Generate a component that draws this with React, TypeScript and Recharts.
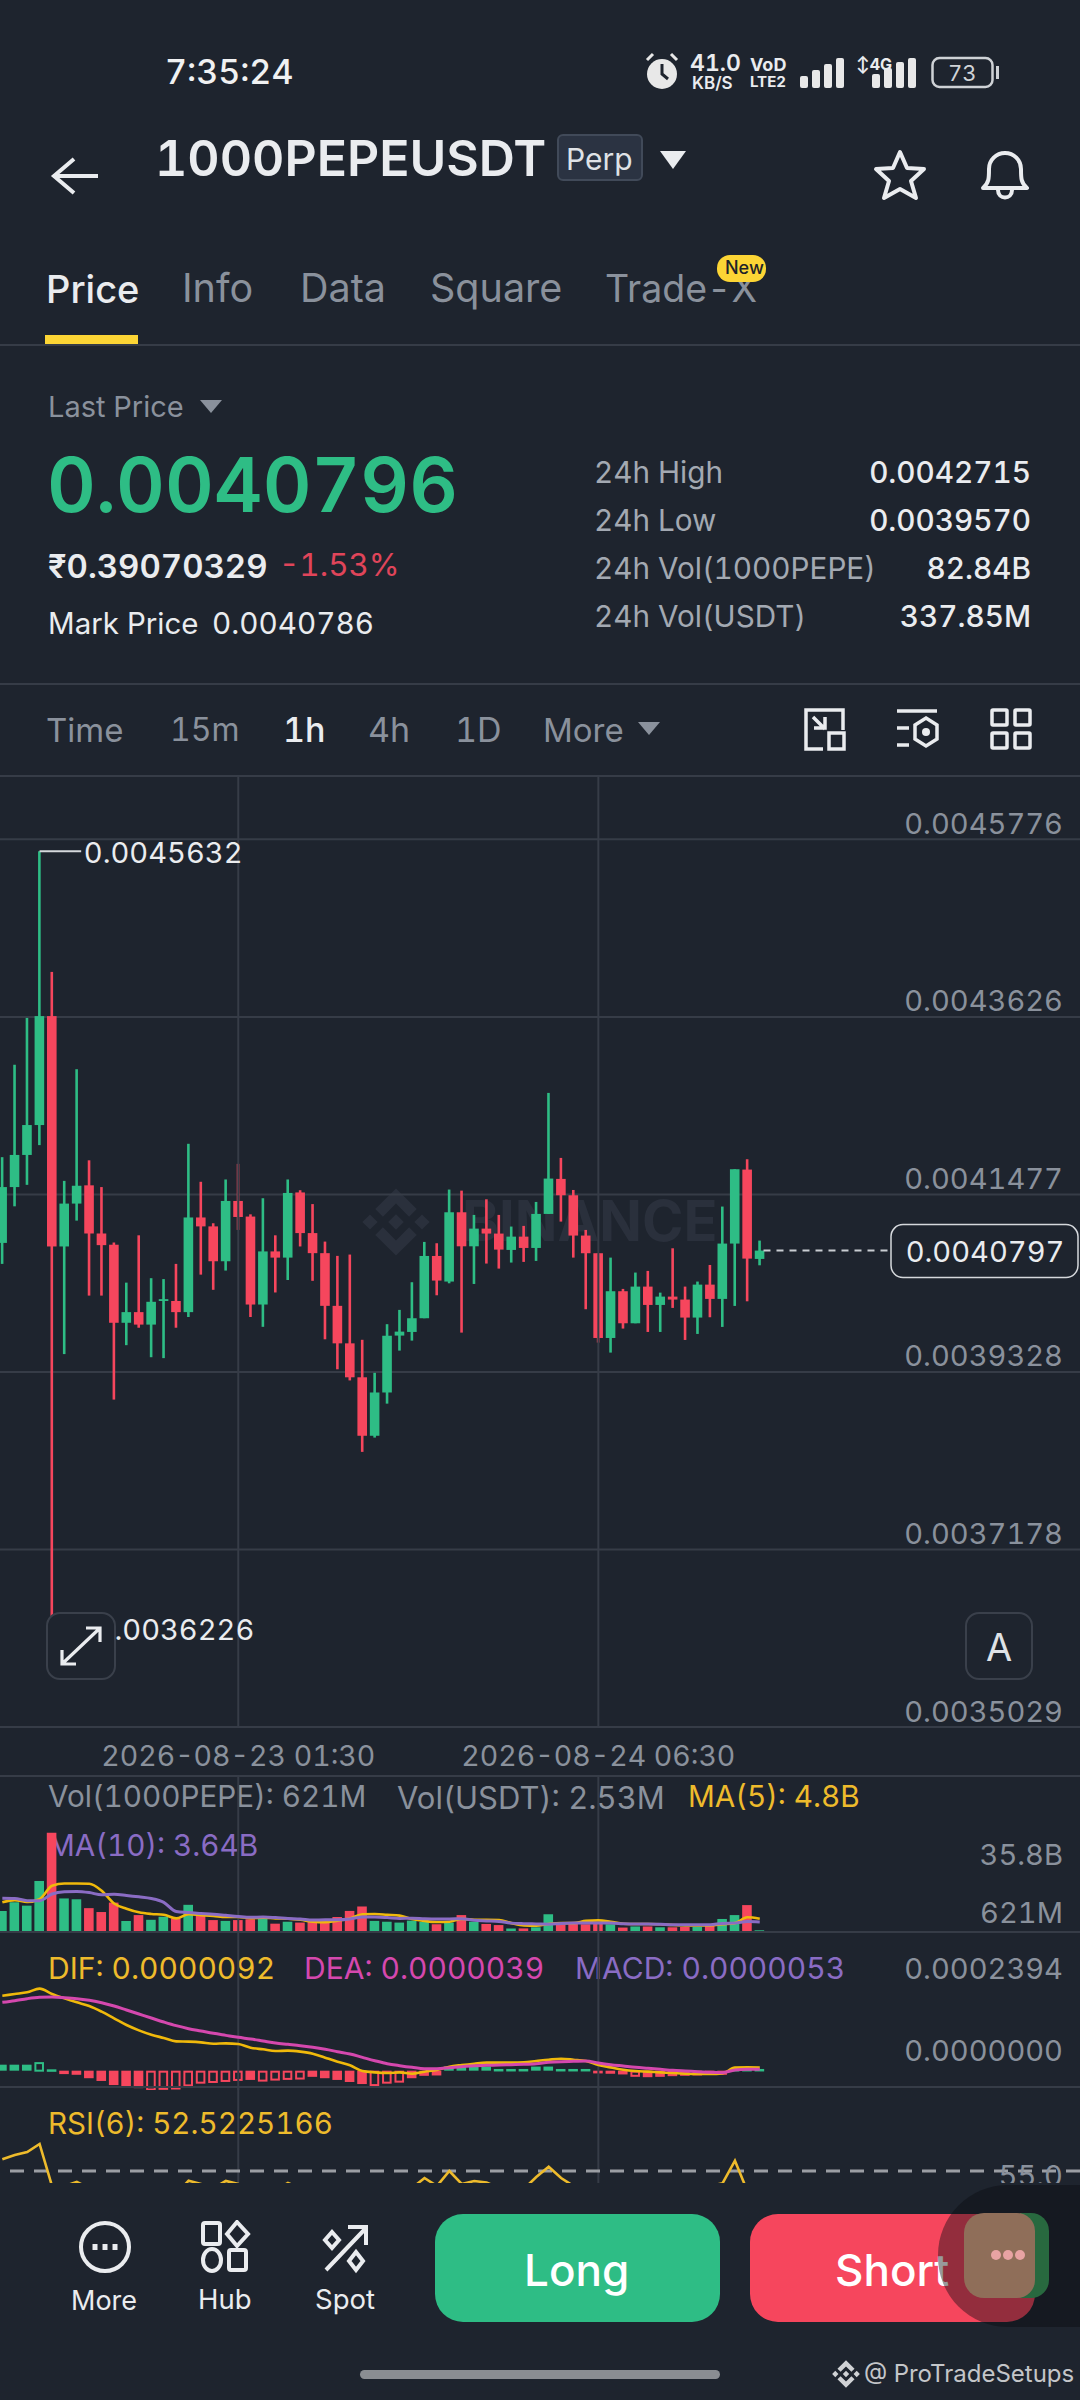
import React from "react";
import {
  Bar,
  CartesianGrid,
  Cell,
  ComposedChart,
  Line,
  ReferenceDot,
  ReferenceLine,
  XAxis,
  YAxis,
} from "recharts";

// prices are kept as price * 1e7
const PRICE_SCALE = 1e7;

const highs = [
  41928, 43047, 43614, 45632, 44171, 41641, 42993, 41890, 41566, 40895, 40409, 40982, 40463, 40452, 40636, 42090,
  41630, 41128, 41658, 41847, 41236, 41431, 40982, 41658, 41528, 41360, 40906, 40733, 40749, 39717, 39317, 39906,
  40079, 40414, 40902, 40886, 41536, 41523, 41229, 41418, 41229, 41088, 41096, 41386, 42706, 41919, 41531, 41047,
  40765, 40712, 40333, 40531, 40551, 40288, 40825, 40361, 40422, 40623, 41330, 41782, 41903, 40918,
];
const lows = [
  40636, 41333, 41593, 42074, 36226, 39544, 41160, 40252, 40252, 38993, 39652, 39863, 39506, 39495, 39863, 39993,
  40506, 40322, 40555, 41047, 39993, 39874, 40290, 40441, 40847, 40431, 39723, 39360, 39225, 38360, 38533, 38944,
  39586, 39707, 39978, 40256, 40401, 39804, 40393, 40640, 40579, 40652, 40660, 40672, 41241, 41148, 40712, 40087,
  39683, 39562, 39853, 39917, 39812, 39812, 40103, 39715, 39788, 39990, 39873, 40127, 40183, 40619,
];
const opens = [
  40890, 41566, 41955, 42317, 43636, 40847, 41366, 41587, 41004, 40868, 39923, 40052, 39901, 40187, 40187, 40052,
  41198, 41090, 40668, 41398, 41209, 40144, 40787, 40712, 41501, 41009, 40766, 40128, 39674, 39263, 38555, 39079,
  39768, 39812, 39978, 40732, 40422, 41261, 40849, 41063, 41003, 40805, 40966, 40829, 41241, 41665, 41467, 40979,
  40765, 39739, 40305, 39917, 40361, 40139, 40240, 40204, 39986, 40385, 40212, 40882, 41778, 40696,
];
const closes = [
  41566, 41955, 42317, 43636, 40847, 41366, 41582, 41004, 40863, 39923, 40052, 39901, 40177, 40209, 40052, 41198,
  41090, 40668, 41398, 41204, 40144, 40787, 40712, 41495, 41009, 40766, 40128, 39674, 39263, 38555, 39079, 39766,
  39816, 39978, 40732, 40434, 41261, 40849, 41063, 41003, 40809, 40966, 40829, 41241, 41669, 41467, 40979, 40765,
  39739, 40305, 39917, 40361, 40139, 40240, 40204, 39986, 40385, 40212, 40882, 41782, 40700, 40797,
];

// volume and its averages, in billions
const volumes = [
  7.6, 10.7, 9.5, 18.4, 35.8, 12.1, 11.8, 8.6, 7.2, 10.6, 4.0, 6.1, 4.4, 5.5, 4.9, 9.8, 5.8, 4.3, 4.0, 4.3, 4.6, 4.7,
  3.0, 3.7, 3.4, 3.7, 3.7, 5.4, 7.6, 9.2, 4.0, 3.7, 3.4, 4.1, 3.6, 2.8, 3.4, 6.1, 3.7, 2.9, 2.5, 1.3, 1.3, 1.7, 6.4,
  2.8, 2.9, 2.8, 2.9, 2.8, 1.6, 2.0, 2.0, 1.7, 1.7, 1.8, 1.9, 2.2, 4.7, 6.1, 9.7, 0.62,
];
const volMa5 = [
  10.7, 11.5, 10.8, 11.8, 16.7, 17.5, 17.5, 17.4, 14.9, 10.3, 8.4, 7.1, 6.5, 6.2, 4.9, 6.4, 6.1, 5.8, 5.4, 5.4, 5.0,
  5.2, 4.9, 4.8, 4.4, 3.7, 3.5, 4.1, 4.9, 6.4, 6.5, 6.2, 5.9, 4.7, 4.0, 3.6, 3.7, 4.7, 4.4, 4.4, 4.3, 3.2, 2.4, 2.3,
  2.9, 3.2, 3.2, 4.0, 4.2, 3.7, 3.0, 2.9, 2.9, 2.8, 2.5, 2.4, 2.4, 2.4, 2.8, 3.2, 5.3, 4.8,
];
const volMa10 = [
  12.2, 12.1, 11.3, 11.3, 13.7, 14.5, 14.6, 14.2, 13.4, 13.6, 13.2, 12.7, 12.1, 10.7, 7.4, 7.0, 6.7, 6.4, 6.0, 5.6,
  5.3, 5.4, 5.2, 4.9, 4.7, 4.3, 4.4, 4.4, 4.7, 5.4, 5.4, 5.2, 4.9, 5.0, 4.8, 4.7, 4.7, 4.8, 4.2, 4.0, 3.8, 3.2, 3.0,
  2.9, 2.8, 3.1, 3.2, 3.2, 3.2, 3.2, 3.0, 2.9, 2.9, 2.8, 2.6, 2.6, 2.6, 2.6, 3.1, 3.2, 3.8, 3.64,
];

// macd, in millionths
const dif = [
  218.9, 223.8, 228.7, 239.4, 223.8, 211.1, 199.5, 188.8, 172.2, 152.8, 133.3, 117.7, 105.1, 95.4, 85.6, 84.7, 82.7,
  78.8, 79.8, 77.8, 67.1, 62.3, 57.4, 58.4, 55.5, 49.6, 37.9, 26.3, 15.6, -1.0, -4.9, -6.8, -4.9, -8.8, -2.9, 1.9,
  11.7, 16.5, 20.4, 23.4, 23.4, 23.4, 24.3, 28.2, 32.1, 35.0, 32.1, 28.2, 16.5, 9.7, 2.9, -1.0, -2.9, -4.9, -6.8,
  -8.8, -9.7, -9.7, -7.8, 8.8, 9.7, 9.2,
];
const dea = [
  199.5, 204.3, 210.2, 214.1, 215.0, 213.1, 210.2, 205.3, 198.5, 188.8, 177.1, 165.4, 153.7, 142.1, 131.4, 122.6,
  115.8, 109.0, 103.1, 97.3, 92.4, 86.6, 80.8, 76.9, 73.0, 68.1, 62.3, 55.5, 48.7, 38.9, 29.2, 20.4, 14.6, 9.7, 5.8,
  5.8, 8.8, 11.7, 14.6, 15.6, 16.5, 17.5, 18.5, 20.4, 24.3, 26.3, 27.2, 28.2, 22.4, 17.5, 13.6, 9.7, 6.8, 3.9, 1.0,
  -1.0, -2.9, -4.9, -5.8, 1.9, 3.9, 3.9,
];
const macdBars = [
  17.5, 17.5, 17.5, 25, 4, -10, -12, -22, -30, -42, -47, -51, -55, -53, -52, -43, -35, -33, -30, -27, -27, -29, -26,
  -24, -23, -18, -22, -27, -33, -39, -42, -35, -32, -22, -15, -14, 12, 12, 12, 12, 5, 5, 5, 12, 12, 5, 5, 5, -8, -9,
  -11, -15, -19, -18, -16, -15, -14, -12, -12, 5, 5, 5,
];
const macdHollow = [3, 12, 13, 14, 15, 16, 17, 18, 19, 21, 22, 23, 24, 30, 31, 32, 51];

const rsi = [
  66.7, 71, 74, 82, 40, 40, 44, 38, 36, 30, 32, 30, 33, 34, 32, 45.3, 42, 38, 45, 42, 30, 37, 36, 43, 38, 34, 28, 25,
  23, 20, 28, 35, 34, 38, 48, 40, 55, 42, 45, 43.5, 38, 37, 37, 49, 59.3, 48, 40, 38, 28, 34, 32, 37, 36, 38, 38, 36,
  40, 40, 42.7, 65.3, 35, 35,
];

const priceTicks = [0.0045776, 0.0043626, 0.0041477, 0.0039328, 0.0037178, 0.0035029];
const timeTicks = [19, 48];
const timeLabels = ["2026-08-23 01:30", "2026-08-24 06:30"];

const lastPrice = 0.0040797;
const highPrice = 0.0045632;
const lowPrice = 0.0036226;

const rows = highs.map((h, i) => ({
  i,
  range: [lows[i] / PRICE_SCALE, h / PRICE_SCALE],
  high: h,
  low: lows[i],
  open: opens[i],
  close: closes[i],
  up: closes[i] >= opens[i],
  volume: volumes[i],
  ma5: volMa5[i],
  ma10: volMa10[i],
  dif: dif[i],
  dea: dea[i],
  macd: macdBars[i],
  hollow: macdHollow.includes(i),
  rsi: rsi[i],
}));

const BG = "#1e242e";
const GRID = "#363c47";
const GREEN = "#2ebd85";
const RED = "#f6465d";
const YELLOW = "#f0b90b";
const GOLD = "#eebb2c";
const PURPLE = "#8a6cc4";
const MAGENTA = "#d548ae";
const GRAY = "#8a919c";
const FONT = "Inter, Roboto, sans-serif";
const AXIS_SIZE = 29.1;
const TNUM = { fontVariantNumeric: "tabular-nums" };

const W = 1080;
const X_DOMAIN = [-0.188, 86.79];

const Candle = (props: any) => {
  const { x, y, width, height, payload } = props;
  const cx = x + width / 2;
  const k = height / (payload.high - payload.low);
  const top = y + (payload.high - Math.max(payload.open, payload.close)) * k;
  const bot = y + (payload.high - Math.min(payload.open, payload.close)) * k;
  const color = payload.up ? GREEN : RED;
  return (
    <g>
      <rect x={cx - 1.3} y={y} width={2.6} height={height} fill={color} />
      <rect x={cx - 4.8} y={top} width={9.6} height={Math.max(bot - top, 1.5)} fill={color} />
    </g>
  );
};

const MacdBar = (props: any) => {
  const { x, y, width, height, payload } = props;
  const color = payload.macd >= 0 ? GREEN : RED;
  const top = Math.min(y, y + height);
  const h = Math.max(Math.abs(height), 2.5);
  if (payload.hollow) {
    return <rect x={x + 1} y={top + 1} width={width - 2} height={h - 1} fill="none" stroke={color} strokeWidth={2} />;
  }
  return <rect x={x} y={top} width={width} height={h} fill={color} />;
};

const sideTick = (format: (v: number) => string, dy: (v: number) => number) => (props: any) => {
  const { y, payload } = props;
  return (
    <text x={1063} y={y + dy(payload.value)} textAnchor="end" dominantBaseline="central" fill={GRAY} fontSize={AXIS_SIZE} fontFamily={FONT} style={TNUM}>
      {format(payload.value)}
    </text>
  );
};

const TimeTick = (props: any) => {
  const { x, y, payload } = props;
  return (
    <text x={x} y={y + 20} textAnchor="middle" dominantBaseline="central" fill={GRAY} fontSize={28.5} fontFamily={FONT} style={TNUM}>
      {timeLabels[timeTicks.indexOf(payload.value)]}
    </text>
  );
};

const PriceNote = (label: string) => (props: any) => (
  <text x={props.cx + 2} y={props.cy + 1} dominantBaseline="central" fill="#eaecef" fontSize={AXIS_SIZE} fontFamily={FONT} style={TNUM}>
    {label}
  </text>
);

const PriceBox = (props: any) => (
  <g>
    <rect x={891} y={props.cy - 26} width={187} height={53} rx={12} fill={BG} stroke="#d5d8dc" strokeWidth={1.5} />
    <text x={985} y={props.cy + 1} textAnchor="middle" dominantBaseline="central" fill="#eaecef" fontSize={AXIS_SIZE} fontFamily={FONT} style={TNUM}>
      {lastPrice.toFixed(7)}
    </text>
  </g>
);

const T = ({ x, y, s = 29.7, c = "#eaecef", w = 400, right, children }: any) => (
  <div
    style={{
      position: "absolute",
      top: y,
      ...(right !== undefined ? { right: W - right } : { left: x }),
      transform: "translateY(-50%)",
      fontSize: s,
      color: c,
      fontWeight: w,
      lineHeight: 1,
      whiteSpace: "nowrap",
      fontFamily: FONT,
      ...TNUM,
    }}
  >
    {children}
  </div>
);

const Line1 = ({ y }: { y: number }) => (
  <div style={{ position: "absolute", left: 0, top: y, width: W, height: 2, background: GRID }} />
);

const Box = ({ x, y, w, h, children }: any) => (
  <svg style={{ position: "absolute", left: x, top: y }} width={w} height={h} viewBox={`0 0 ${w} ${h}`}>
    {children}
  </svg>
);

const Tri = ({ x, y, w = 22, h = 13, c = GRAY }: any) => (
  <Box x={x} y={y} w={w} h={h}>
    <polygon points={`0,0 ${w},0 ${w / 2},${h}`} fill={c} />
  </Box>
);

const BinanceMark = ({ x, y, size, c }: any) => (
  <svg style={{ position: "absolute", left: x, top: y }} width={size} height={size} viewBox="0 0 126 126">
    <path
      fill={c}
      d="M38.73 53.2 63 28.94l24.28 24.28 14.12-14.12L63 .7 24.6 39.1zM.7 63l14.12-14.12L28.94 63 14.82 77.12zM38.73 72.8 63 97.06l24.28-24.28 14.13 14.11L63 125.3 24.6 86.9zM97.06 63l14.12-14.12L125.3 63l-14.12 14.12zM77.32 63 63 48.67 48.68 63 63 77.32z"
    />
  </svg>
);

const SignalBars = ({ x, gap, heights }: any) => (
  <Box x={x} y={56} w={50} h={34}>
    {heights.map((h: number, i: number) => (
      <rect key={i} x={i * gap} y={32 - h} width={8} height={h} rx={2} fill="#e8e8e8" />
    ))}
  </Box>
);

const StatusBar = () => (
  <>
    <T x={165} y={72} s={34} w={500} c="#f0f1f2">7:35:24</T>
    <Box x={645} y={52} w={34} h={40}>
      <circle cx={17} cy={22} r={15} fill="#e8e8e8" />
      <path d="M17 12v10l6 5" stroke={BG} strokeWidth={3} fill="none" />
      <path d="M2 8l6-6M32 8l-6-6" stroke="#e8e8e8" strokeWidth={3} />
    </Box>
    <T x={690} y={63} s={23} w={600}>41.0</T>
    <T x={692} y={83} s={17} w={600}>KB/S</T>
    <T x={750} y={65} s={18} w={700}>VoD</T>
    <T x={750} y={81} s={15} w={700}>LTE2</T>
    <SignalBars x={800} gap={12} heights={[12, 18, 24, 30]} />
    <SignalBars x={872} gap={12} heights={[14, 20, 26, 30]} />
    <T x={856} y={64} s={16} w={700}>↕4G</T>
    <Box x={931} y={56} w={70} h={34}>
      <rect x={1.5} y={2} width={60} height={29} rx={7} fill="none" stroke="#cfd2d6" strokeWidth={2.5} />
      <rect x={65} y={10} width={3} height={13} fill="#cfd2d6" />
    </Box>
    <T x={948} y={73} s={22} c="#d0d3d7">73</T>
  </>
);

const Header = () => (
  <>
    <Box x={50} y={155} w={50} h={42}>
      <path d="M24 4 4 21l20 17M4 21h44" fill="none" stroke="#eaecef" strokeWidth={4} />
    </Box>
    <T x={155} y={158} s={50} w={600}>1000PEPEUSDT</T>
    <div style={{ position: "absolute", left: 557, top: 134, width: 86, height: 47, borderRadius: 6, background: "#2b3342", border: "2px solid #414a59", boxSizing: "border-box" }} />
    <T x={566} y={159} s={30} c="#dfe2e6">Perp</T>
    <Tri x={660} y={151} w={26} h={18} c="#eaecef" />
    <Box x={873} y={148} w={56} h={56}>
      <polygon points="27,4 34,20 51,21 38,33 43,50 27,41 11,50 16,33 3,21 20,20" fill="none" stroke="#eaecef" strokeWidth={4} strokeLinejoin="round" />
    </Box>
    <Box x={978} y={148} w={54} h={56}>
      <path d="M5 40c6-5 6-10 6-19a16 16 0 0 1 32 0c0 9 0 14 6 19zM20 42c0 10 14 10 14 0" fill="none" stroke="#eaecef" strokeWidth={4} strokeLinejoin="round" />
    </Box>

    <T x={46} y={289} s={38} w={500}>Price</T>
    <T x={182} y={289} s={39.5} c={GRAY}>Info</T>
    <T x={300} y={289} s={39.5} c={GRAY}>Data</T>
    <T x={430} y={289} s={39.5} c={GRAY}>Square</T>
    <T x={605} y={289} s={37.5} c={GRAY}>Trade-X</T>
    <div style={{ position: "absolute", left: 717, top: 255, width: 49, height: 27, borderRadius: 13, background: "#fcd535" }} />
    <T x={725} y={268} s={18} c="#1e2329" w={500}>New</T>
    <div style={{ position: "absolute", left: 45, top: 335, width: 93, height: 9, background: "#fcd535" }} />
    <Line1 y={344} />

    <T x={48} y={406} s={29} c={GRAY}>Last Price</T>
    <Tri x={200} y={400} />
    <T x={47} y={485} s={75.5} w={600} c={GREEN}>0.0040796</T>
    <T x={48} y={566} s={33} w={600}>₹0.39070329</T>
    <T x={279} y={566} s={31.4} c="#e0455a">-1.53%</T>
    <T x={48} y={624} s={29.5}>Mark Price</T>
    <T x={212} y={624} s={29.7}>0.0040786</T>

    <T x={594} y={473} c="#a3a9b2">24h High</T>
    <T x={594} y={521} c="#a3a9b2">24h Low</T>
    <T x={594} y={569} c="#a3a9b2">24h Vol(1000PEPE)</T>
    <T x={594} y={617} c="#a3a9b2">24h Vol(USDT)</T>
    <T right={1031} y={473} w={500}>0.0042715</T>
    <T right={1031} y={521} w={500}>0.0039570</T>
    <T right={1031} y={569} w={500}>82.84B</T>
    <T right={1031} y={617} w={500}>337.85M</T>
    <Line1 y={683} />

    <T x={46} y={730} s={33} c={GRAY}>Time</T>
    <T x={170} y={730} s={32} c={GRAY}>15m</T>
    <T x={283} y={730} s={34} w={500}>1h</T>
    <T x={368} y={730} s={34} c={GRAY}>4h</T>
    <T x={455} y={730} s={34} c={GRAY}>1D</T>
    <T x={543} y={730} s={33} c={GRAY}>More</T>
    <Tri x={638} y={722} />
    <Box x={804} y={708} w={44} h={44}>
      <path d="M2 30V2h37v20M2 30v11h17M25 25h15v16H25z" fill="none" stroke="#eaecef" strokeWidth={3.5} />
      <path d="M9 9l12 12M10 20h11V9" fill="none" stroke="#eaecef" strokeWidth={3.5} />
    </Box>
    <Box x={894} y={708} w={48} h={44}>
      <path d="M3 3h40M3 20h12M3 37h12M32 10l11 7v14l-11 7-11-7V17z" fill="none" stroke="#eaecef" strokeWidth={3.5} />
      <circle cx={32} cy={24} r={4} fill="#eaecef" />
    </Box>
    <Box x={990} y={708} w={44} h={44}>
      {[[2, 2], [25, 2], [2, 25], [25, 25]].map(([a, b], i) => (
        <rect key={i} x={a} y={b} width={15} height={15} rx={1} fill="none" stroke="#eaecef" strokeWidth={3.5} />
      ))}
    </Box>
    <Line1 y={775} />
  </>
);

const PriceChart = () => (
  <div style={{ position: "absolute", left: 0, top: 776 }}>
    <ComposedChart width={W} height={999} data={rows} margin={{ top: 0, right: 0, bottom: 0, left: 0 }}>
      <CartesianGrid stroke={GRID} strokeWidth={2} vertical={false} />
      <XAxis
        type="number"
        dataKey="i"
        domain={X_DOMAIN}
        ticks={timeTicks}
        interval={0}
        height={48}
        tickLine={false}
        stroke={GRID}
        strokeWidth={2}
        tick={<TimeTick />}
      />
      <YAxis
        orientation="right"
        mirror
        domain={[0.0035029, 0.0046543]}
        ticks={priceTicks}
        interval={0}
        axisLine={false}
        tickLine={false}
        tick={sideTick((v) => v.toFixed(7), () => -16)}
      />
      {timeTicks.map((t) => (
        <ReferenceLine key={t} x={t} stroke={GRID} strokeWidth={2} />
      ))}
      <Bar dataKey="range" barSize={10} shape={<Candle />} isAnimationActive={false} />
      <ReferenceLine segment={[{ x: 3, y: highPrice }, { x: 6.35, y: highPrice }]} stroke="#d5d8dc" strokeWidth={2} />
      <ReferenceDot x={6.4} y={highPrice} r={0} shape={PriceNote(highPrice.toFixed(7))} />
      <ReferenceLine segment={[{ x: 4, y: lowPrice }, { x: 7.3, y: lowPrice }]} stroke="#d5d8dc" strokeWidth={2} />
      <ReferenceDot x={7.35} y={lowPrice} r={0} shape={PriceNote(lowPrice.toFixed(7))} />
      <ReferenceLine
        segment={[{ x: 61.3, y: lastPrice }, { x: 71.5, y: lastPrice }]}
        stroke="#c9cdd2"
        strokeWidth={2}
        strokeDasharray="7 6"
      />
      <ReferenceDot x={72} y={lastPrice} r={0} shape={PriceBox} />
    </ComposedChart>
  </div>
);

const VolumeChart = () => (
  <div style={{ position: "absolute", left: 0, top: 1775 }}>
    <ComposedChart width={W} height={158} data={rows} margin={{ top: 0, right: 0, bottom: 0, left: 0 }}>
      <XAxis type="number" dataKey="i" domain={X_DOMAIN} height={1} tick={false} tickLine={false} stroke={GRID} strokeWidth={2} />
      <YAxis
        orientation="right"
        mirror
        domain={[0, 56.6]}
        ticks={[0.62, 35.8]}
        interval={0}
        axisLine={false}
        tickLine={false}
        tick={sideTick((v) => (v > 1 ? `${v}B` : "621M"), (v) => (v > 1 ? 22 : -18))}
      />
      {timeTicks.map((t) => (
        <ReferenceLine key={t} x={t} stroke={GRID} strokeWidth={2} />
      ))}
      <Bar dataKey="volume" barSize={9.6} isAnimationActive={false}>
        {rows.map((r) => (
          <Cell key={r.i} fill={r.up ? GREEN : RED} />
        ))}
      </Bar>
      <Line dataKey="ma5" type="monotone" dot={false} stroke={YELLOW} strokeWidth={2.6} isAnimationActive={false} />
      <Line dataKey="ma10" type="monotone" dot={false} stroke={PURPLE} strokeWidth={3} isAnimationActive={false} />
    </ComposedChart>
  </div>
);

const MacdChart = () => (
  <div style={{ position: "absolute", left: 0, top: 1932 }}>
    <ComposedChart width={W} height={158} data={rows} margin={{ top: 0, right: 0, bottom: 0, left: 0 }}>
      <XAxis type="number" dataKey="i" domain={X_DOMAIN} hide />
      <YAxis
        orientation="right"
        mirror
        domain={[-56.4, 404.8]}
        ticks={[0, 239.4]}
        interval={0}
        axisLine={false}
        tickLine={false}
        tick={sideTick((v) => (v / 1e6).toFixed(7), () => -20)}
      />
      {timeTicks.map((t) => (
        <ReferenceLine key={t} x={t} stroke={GRID} strokeWidth={2} />
      ))}
      <ReferenceLine y={-47.7} stroke={GRID} strokeWidth={2} />
      <Bar dataKey="macd" barSize={9.6} shape={<MacdBar />} isAnimationActive={false} />
      <Line dataKey="dif" type="monotone" dot={false} stroke={YELLOW} strokeWidth={2.6} isAnimationActive={false} />
      <Line dataKey="dea" type="monotone" dot={false} stroke={MAGENTA} strokeWidth={3} isAnimationActive={false} />
    </ComposedChart>
  </div>
);

const RsiChart = () => (
  <div style={{ position: "absolute", left: 0, top: 2088 }}>
    <ComposedChart width={W} height={95} data={rows} margin={{ top: 0, right: 0, bottom: 0, left: 0 }}>
      <XAxis type="number" dataKey="i" domain={X_DOMAIN} hide />
      <YAxis
        orientation="right"
        mirror
        domain={[43, 138]}
        allowDataOverflow
        ticks={[55]}
        interval={0}
        axisLine={false}
        tickLine={false}
        tick={sideTick((v) => v.toFixed(1), () => 4)}
      />
      {timeTicks.map((t) => (
        <ReferenceLine key={t} x={t} stroke={GRID} strokeWidth={2} />
      ))}
      <ReferenceLine y={55} stroke="#9b9ea4" strokeWidth={3} strokeDasharray="14 10" />
      <Line dataKey="rsi" type="linear" dot={false} stroke={GOLD} strokeWidth={2.6} isAnimationActive={false} />
    </ComposedChart>
  </div>
);

const Legends = () => (
  <>
    <Line1 y={1775} />
    <T x={48} y={1797} c={GRAY}>Vol(1000PEPE): 621M</T>
    <T x={397} y={1797} s={31} c={GRAY}>Vol(USDT): 2.53M</T>
    <T x={688} y={1797} c={GOLD}>MA(5): 4.8B</T>
    <T x={48} y={1846} c={PURPLE}>MA(10): 3.64B</T>
    <T x={48} y={1968} s={30} c={GOLD}>DIF: 0.0000092</T>
    <T x={304} y={1968} s={30} c={MAGENTA}>DEA: 0.0000039</T>
    <T x={575} y={1968} s={30} c={PURPLE}>MACD: 0.0000053</T>
    <T x={48} y={2124} s={29.6} c={GOLD}>RSI(6): 52.5225166</T>
  </>
);

const ChartButtons = () => (
  <>
    <div style={{ position: "absolute", left: 46, top: 1612, width: 70, height: 68, borderRadius: 14, background: BG, border: "2px solid #3a404b", boxSizing: "border-box" }} />
    <Box x={58} y={1624} w={46} h={44}>
      <path d="M4 40 42 4M4 26v14h14M28 4h14v14" fill="none" stroke="#eaecef" strokeWidth={3.2} />
    </Box>
    <div style={{ position: "absolute", left: 965, top: 1612, width: 68, height: 68, borderRadius: 14, border: "2px solid #3a404b", boxSizing: "border-box" }} />
    <T x={986} y={1647} s={38} c="#dfe2e6">A</T>
  </>
);

const BottomBar = () => (
  <>
    <Box x={78} y={2220} w={54} h={54}>
      <circle cx={27} cy={27} r={24} fill="none" stroke="#eaecef" strokeWidth={4} />
      {[17, 27, 37].map((c) => (
        <rect key={c} x={c - 2.5} y={24} width={5} height={6} fill="#eaecef" />
      ))}
    </Box>
    <T x={71} y={2300} s={27}>More</T>
    <Box x={200} y={2220} w={52} h={54}>
      <rect x={3} y={3} width={17} height={21} rx={2} fill="none" stroke="#eaecef" strokeWidth={4} />
      <polygon points="37,2 48,14 37,26 27,14" fill="none" stroke="#eaecef" strokeWidth={4} />
      <ellipse cx={12} cy={40} rx={9} ry={11} fill="none" stroke="#eaecef" strokeWidth={4} />
      <rect x={29} y={30} width={17} height={20} rx={2} fill="none" stroke="#eaecef" strokeWidth={4} />
    </Box>
    <T x={198} y={2300} s={27.5}>Hub</T>
    <Box x={322} y={2224} w={48} h={50}>
      <path d="M4 46 44 4M26 3h18v18" fill="none" stroke="#eaecef" strokeWidth={4} />
      <polygon points="10,8 17,16 10,24 3,16" fill="none" stroke="#eaecef" strokeWidth={4} />
      <polygon points="34,28 41,37 34,46 27,37" fill="none" stroke="#eaecef" strokeWidth={4} />
    </Box>
    <T x={315} y={2300} s={27.5}>Spot</T>
    <div style={{ position: "absolute", left: 435, top: 2214, width: 285, height: 108, borderRadius: 28, background: GREEN }} />
    <T x={524} y={2270} s={44} w={500} c="#fff">Long</T>
    <div style={{ position: "absolute", left: 750, top: 2214, width: 285, height: 108, borderRadius: 28, background: RED }} />
    <T x={835} y={2270} s={44} w={500} c="#fff">Short</T>
    <div style={{ position: "absolute", left: 938, top: 2185, width: 142, height: 142, borderRadius: "70px 0 0 70px", background: "rgba(10,12,16,0.42)" }} />
    <div style={{ position: "absolute", left: 1020, top: 2213, width: 29, height: 85, borderRadius: "0 18px 18px 0", background: "#28693f" }} />
    <div style={{ position: "absolute", left: 964, top: 2213, width: 71, height: 85, borderRadius: "20px 18px 18px 20px", background: "#8f6e59" }} />
    <Box x={990} y={2248} w={36} h={14}>
      {[6, 18, 30].map((c) => (
        <circle key={c} cx={c} cy={7} r={5} fill="#e8a3a3" />
      ))}
    </Box>
    <div style={{ position: "absolute", left: 360, top: 2370, width: 360, height: 9, borderRadius: 5, background: "#8a8d92" }} />
    <BinanceMark x={832} y={2360} size={28} c="#d0d2d5" />
    <T x={864} y={2374} s={24} c="#c4c6c9">@ ProTradeSetups</T>
  </>
);

export default function App() {
  return (
    <div style={{ position: "absolute", left: 0, top: 0, width: W, height: 2400, background: BG, overflow: "hidden", fontFamily: FONT }}>
      <StatusBar />
      <Header />
      <BinanceMark x={362} y={1188} size={68} c="#2a303c" />
      <T x={462} y={1221} s={56} w={700} c="#2a303c">BINANCE</T>
      <Legends />
      <PriceChart />
      <VolumeChart />
      <MacdChart />
      <RsiChart />
      <ChartButtons />
      <BottomBar />
    </div>
  );
}
